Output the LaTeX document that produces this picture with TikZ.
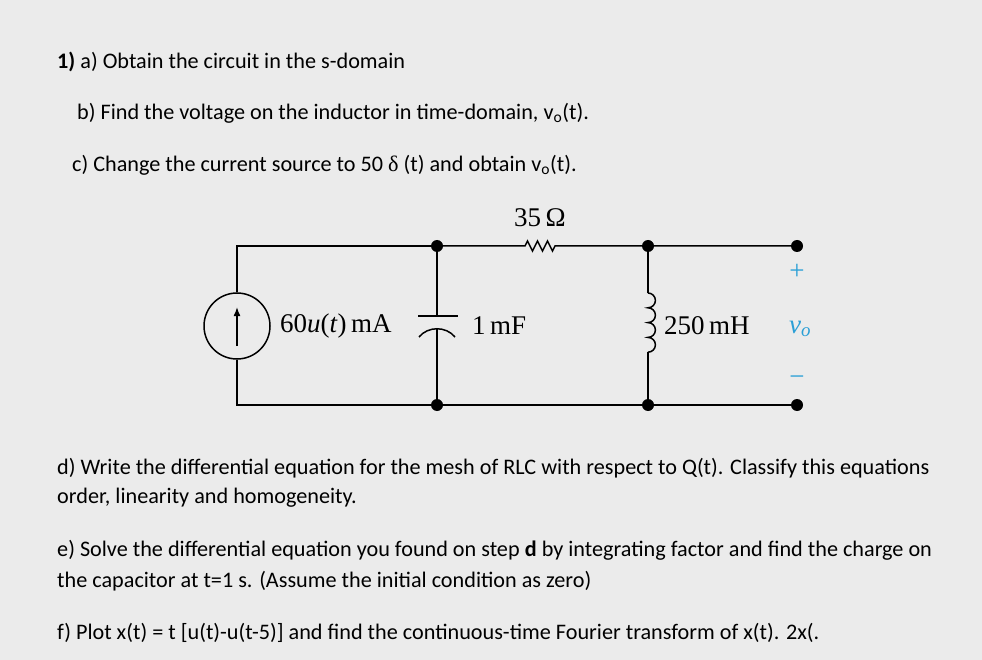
\documentclass[tikz,border=0pt]{standalone}
\usepackage{fontspec}
\usetikzlibrary{arrows.meta}
\setmainfont{Carlito}
\newfontfamily\ser{Liberation Serif}
\definecolor{bg}{HTML}{EBEBEB}
\definecolor{vblue}{HTML}{2A9FD6}
\begin{document}
\begin{tikzpicture}[x=1pt,y=-1pt,
  txt/.style={anchor=west,font=\fontsize{22.2}{26}\selectfont,inner sep=0},
  lbl/.style={font=\ser\fontsize{27}{29}\selectfont,inner sep=0},
  wire/.style={line width=1.5pt},
  dot/.style={circle,fill=black,inner sep=0,minimum size=12pt}]
\fill[bg] (0,0) rectangle (982,660);
\useasboundingbox (0,0) rectangle (982,660);
\node[txt] (t1) at (57,62) {\textbf{1)} a) Obtain the circuit in the s-domain};
\node[txt] (t2) at (77,113) {b) Find the voltage on the inductor in time-domain, v\textsubscript{o}(t).};
\node[txt] (t3) at (72,165) {c) Change the current source to 50 {\ser δ} (t) and obtain v\textsubscript{o}(t).};
\node[txt] (t4) at (57,468) {d) Write the differential equation for the mesh of RLC with respect to Q(t). Classify this equations};
\node[txt] (t5) at (57,498) {order, linearity and homogeneity.};
\node[txt] (t6) at (57,550) {e) Solve the differential equation you found on step \textbf{d} by integrating factor and find the charge on};
\node[txt] (t7) at (57,581) {the capacitor at t=1 s. (Assume the initial condition as zero)};
\node[txt] (t8) at (57,633) {f) Plot x(t) = t [u(t)-u(t-5)] and find the continuous-time Fourier transform of x(t). 2x(.};
% nodes
\coordinate (tl) at (237,246); \coordinate (bl) at (237,405);
\node[dot] (c1) at (437,246) {}; \node[dot] (c2) at (437,405) {};
\node[dot] (l1) at (648,246) {}; \node[dot] (l2) at (648,405) {};
\node[dot] (o1) at (797,246) {}; \node[dot] (o2) at (797,405) {};
\node[circle,draw,line width=1.5pt,minimum size=66pt,inner sep=0] (src) at (237,326) {};
\draw[wire,-{Latex[length=9pt,width=7pt]}] (237,346) -- (237,307);
\draw[wire] (src.north) -- (tl) -- (c1);
\draw[wire] (src.south) -- (bl) -- (c2) -- (l2) -- (o2);
\draw[wire] (c1) -- (525,246) -- (527.5,241) -- (532.5,251) -- (537.5,241) -- (542.5,251) -- (547.5,241) -- (552.5,251) -- (555,246) -- (l1) -- (o1);
% capacitor
\draw[wire] (c1) -- (437,316); \draw[wire] (418,316) -- (458,316);
\draw[wire] (419,337) .. controls (428,326) and (446,326) .. (455,337);
\draw[wire] (437,329) -- (c2);
% inductor
\draw[wire] (l1) -- (648,293);
\draw[wire] (648,293) arc[start angle=-90,end angle=90,radius=7.4] arc[start angle=-90,end angle=90,radius=7.4] arc[start angle=-90,end angle=90,radius=7.4] arc[start angle=-90,end angle=90,radius=7.4];
\draw[wire] (648,352) -- (l2);
% labels
\node[lbl] (r) at (540,218) {35\,Ω};
\node[lbl,anchor=west] (sl) at (280,326) {60\textit{u}(\textit{t})\,mA};
\node[lbl,anchor=west] (cl) at (472,326) {1\,mF};
\node[lbl,anchor=west] (ll) at (664,326) {250\,mH};
\node[lbl,text=vblue] (pl) at (797,272) {+};
\node[lbl,text=vblue] (vl) at (800,329) {\textit{v\textsubscript{o}}};
\node[lbl,text=vblue] (ml) at (797,381) {−};
\end{tikzpicture}
\end{document}
